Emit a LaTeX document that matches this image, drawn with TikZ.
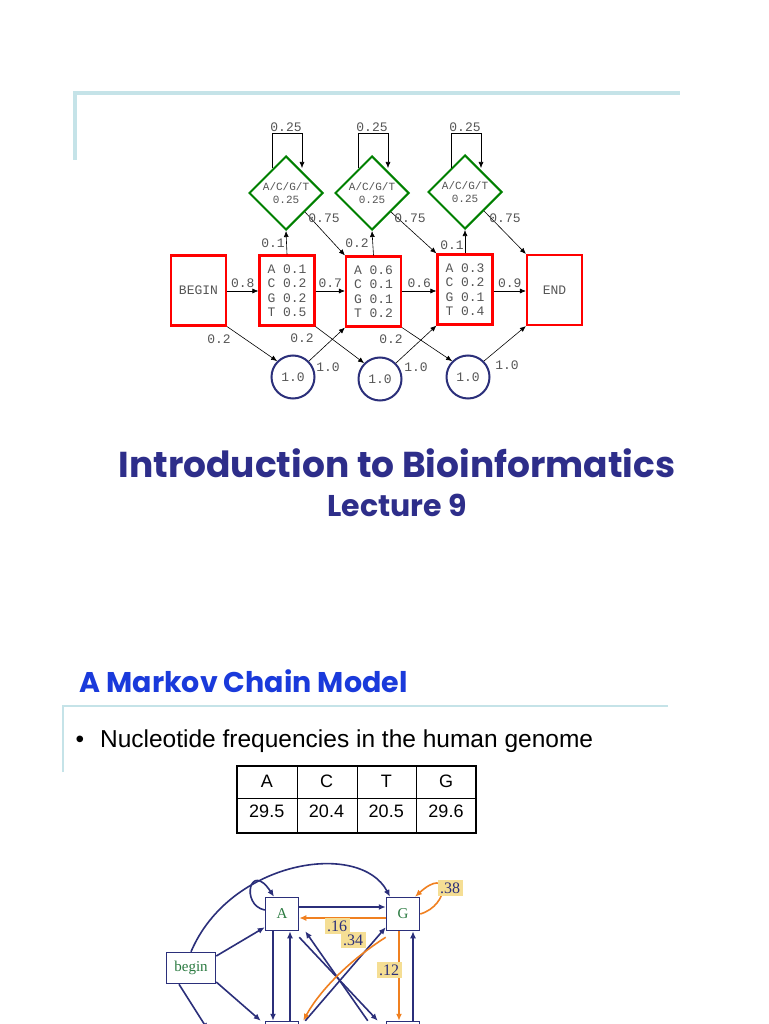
\documentclass[tikz,border=0pt]{standalone}
\usepackage{fontspec}
\setmainfont{Liberation Sans}
\newfontfamily\monof{Liberation Mono}
\newfontfamily\titlef{Poppins}
\newfontfamily\serff{Liberation Serif}
\usetikzlibrary{shapes.geometric,arrows.meta}
\definecolor{frame}{HTML}{C5E3E8}
\definecolor{stx}{HTML}{555555}
\definecolor{navy}{HTML}{2B2F7A}
\definecolor{tblue}{HTML}{2E2E8A}
\definecolor{mblue}{HTML}{1A3ADB}
\definecolor{org}{HTML}{F08020}
\definecolor{ylw}{HTML}{F5DE94}
\definecolor{grn}{HTML}{2A7A40}
\begin{document}
\begin{tikzpicture}[x=1pt,y=-1pt,
  st/.style={draw=red,line width=2.2pt,minimum width=55pt,minimum height=70pt,inner sep=0pt,font=\monof\fontsize{13}{14.5}\selectfont,text=stx,align=left},
  dm/.style={diamond,draw=green!50!black,line width=2pt,minimum width=74pt,minimum height=74pt,inner sep=0pt,font=\monof\fontsize{11}{13}\selectfont,text=stx,align=center},
  ci/.style={circle,draw=navy,line width=2pt,minimum size=43pt,inner sep=0pt,font=\monof\fontsize{13}{14}\selectfont,text=stx},
  lb/.style={font=\monof\fontsize{13}{14}\selectfont,text=stx},
  ar/.style={-{Latex[length=6pt,width=5pt]},line width=0.6pt},
  nb/.style={draw=navy,line width=1.5pt,fill=white,inner sep=0pt,minimum width=33pt,minimum height=33pt,font=\serff\fontsize{15}{17}\selectfont,text=grn},
  na/.style={-{Latex[length=7pt,width=6pt]},draw=navy,line width=1.6pt},
  oa/.style={-{Latex[length=7pt,width=6pt]},draw=org,line width=1.6pt},
  yl/.style={fill=ylw,inner sep=2.5pt,font=\serff\fontsize{16}{18}\selectfont,text=navy}]
\useasboundingbox (0,0) rectangle (768,1024);
\fill[white] (0,0) rectangle (768,1024);
\draw[frame,line width=4pt] (75,160) -- (75,93) -- (680,93);
% top model
\node[st] (B) at (198.5,290.5) {BEGIN};
\node[st] (s1) at (287,290.5) {A 0.1\\C 0.2\\G 0.2\\T 0.5};
\node[st] (s2) at (373.5,291.5) {A 0.6\\C 0.1\\G 0.1\\T 0.2};
\node[st] (s3) at (465,289.5) {A 0.3\\C 0.2\\G 0.1\\T 0.4};
\node[st] (E) at (554.5,290) {END};
\node[dm] (d1) at (286,193) {A/C/G/T\\0.25};
\node[dm] (d2) at (372,193) {A/C/G/T\\0.25};
\node[dm] (d3) at (465,192) {A/C/G/T\\0.25};
\node[ci] (c1) at (293,377) {1.0};
\node[ci] (c2) at (380,379) {1.0};
\node[ci] (c3) at (468,377) {1.0};
\foreach \d/\x in {d1/286,d2/372,d3/465}{
  \coordinate (\d a) at (\x-14,133); \coordinate (\d b) at (\x+16,133);
  \draw[ar] ([xshift=-14pt]\d.north |- 0,168) -- (\d a) -- (\d b) -- ([xshift=16pt]\d.north |- 0,168);
  \node[lb] at (\x,127) {0.25};}
\draw[ar] (B.east |- 0,291) -- (s1.west |- 0,291) node[lb,midway,above] {0.8};
\draw[ar] (s1.east |- 0,291) -- (s2.west |- 0,291) node[lb,midway,above] {0.7};
\draw[ar] (s2.east |- 0,291) -- (s3.west |- 0,291) node[lb,midway,above] {0.6};
\draw[ar] (s3.east |- 0,291) -- (E.west |- 0,291) node[lb,midway,above] {0.9};
\draw[ar] (s1.north) -- (d1.south); \node[lb] at (273,243) {0.1};
\draw[ar] (s2.north) -- (d2.south); \node[lb] at (357,243) {0.2};
\draw[ar] (s3.north) -- (d3.south); \node[lb] at (452,245) {0.1};
\draw[ar] (d1.south east) -- (s2.north west); \node[lb] at (324,218) {0.75};
\draw[ar] (d2.south east) -- (s3.north west); \node[lb] at (410,218) {0.75};
\draw[ar] (d3.south east) -- (E.north west); \node[lb] at (505,218) {0.75};
\draw[ar] (B.south east) -- (c1.north west); \node[lb] at (219,339) {0.2};
\draw[ar] (s1.south east) -- (c2.north west); \node[lb] at (302,338) {0.2};
\draw[ar] (s2.south east) -- (c3.north west); \node[lb] at (391,339) {0.2};
\draw[ar] (c1.north east) -- (s2.south west); \node[lb] at (328,367) {1.0};
\draw[ar] (c2.north east) -- (s3.south west); \node[lb] at (416,367) {1.0};
\draw[ar] (c3.north east) -- (E.south west); \node[lb] at (507,365) {1.0};
% titles
\node[font=\titlef\bfseries\fontsize{36}{40}\selectfont,text=tblue] (t1) at (397,463) {Introduction to Bioinformatics};
\node[font=\titlef\bfseries\fontsize{30}{34}\selectfont,text=tblue] (t2) at (397,505) {Lecture 9};
\node[font=\titlef\bfseries\fontsize{28.5}{32}\selectfont,text=mblue,anchor=west] (t3) at (76,681) {A Markov Chain Model};
\draw[frame,line width=2pt] (63,772) -- (63,706) -- (668,706);
\node[anchor=west,font=\fontsize{24.5}{28}\selectfont] (bl) at (72,741) {\textbullet\hspace{16pt}Nucleotide frequencies in the human genome};
% table
\draw[line width=1.8pt] (237,766) rectangle (476,833);
\draw[line width=0.9pt] (237,798) -- (476,798) (297,766) -- (297,833) (357,766) -- (357,833) (416,766) -- (416,833);
\foreach \t/\v [count=\i] in {A/29.5,C/20.4,T/20.5,G/29.6}{
  \node[font=\fontsize{18}{20}\selectfont] at (207+\i*59.75,781) {\t};
  \node[font=\fontsize{18}{20}\selectfont] at (207+\i*59.75,811) {\v};}
% bottom Markov chain
\begin{scope}
\clip (0,840) rectangle (768,1024);
\node[nb,minimum width=49pt,minimum height=31pt] (bg) at (191,968) {begin};
\node[nb] (nA) at (282,914) {A};
\node[nb] (nG) at (403,914) {G};
\node[nb] (nC) at (282,1038) {};
\node[nb] (nT) at (403,1038) {};
\draw[na] (bg.north) .. controls (230,860) and (360,840) .. ([xshift=-13pt]nG.north);
\draw[na] (bg.east |- 0,956) -- ([yshift=4pt]nA.south west);
\draw[na] (bg.east |- 0,982) -- ([xshift=-4pt]nC.north west);
\draw[na] ([xshift=-12pt]bg.south) -- (208,1030);
\draw[na] ([yshift=4pt]nA.west) .. controls (240,905) and (250,860) .. ([xshift=-8pt]nA.north);
\draw[na] (nA.east |- 0,907) -- (nG.west |- 0,907);
\draw[oa] (nG.west |- 0,918) -- (nA.east |- 0,918);
\draw[oa] (nG.east) .. controls (450,905) and (450,865) .. ([xshift=12pt]nG.north);
\draw[na] ([xshift=-9pt]nA.south) -- ([xshift=-9pt]nC.north);
\draw[na] ([xshift=8pt]nC.north) -- ([xshift=8pt]nA.south);
\draw[oa] ([xshift=-4pt]nG.south) -- ([xshift=-4pt]nT.north);
\draw[na] ([xshift=10pt]nT.north) -- ([xshift=10pt]nG.south);
\draw[na] ([yshift=-6pt]nA.south east) -- ([xshift=-8pt]nT.north west);
\draw[na] ([xshift=-18pt]nT.north west) -- ([xshift=6pt]nA.south east);
\draw[na] ([xshift=6pt]nC.north east) -- ([yshift=4pt]nG.south west);
\draw[oa] ([yshift=-6pt]nG.south west) .. controls (350,960) and (320,990) .. ([xshift=4pt]nC.north east);
\node[yl] (l16) at (337,926) {.16};
\node[yl] (l34) at (353,940) {.34};
\node[yl] (l12) at (389,970) {.12};
\node[yl] (l38) at (450,888) {.38};
\end{scope}
\end{tikzpicture}
\end{document}
